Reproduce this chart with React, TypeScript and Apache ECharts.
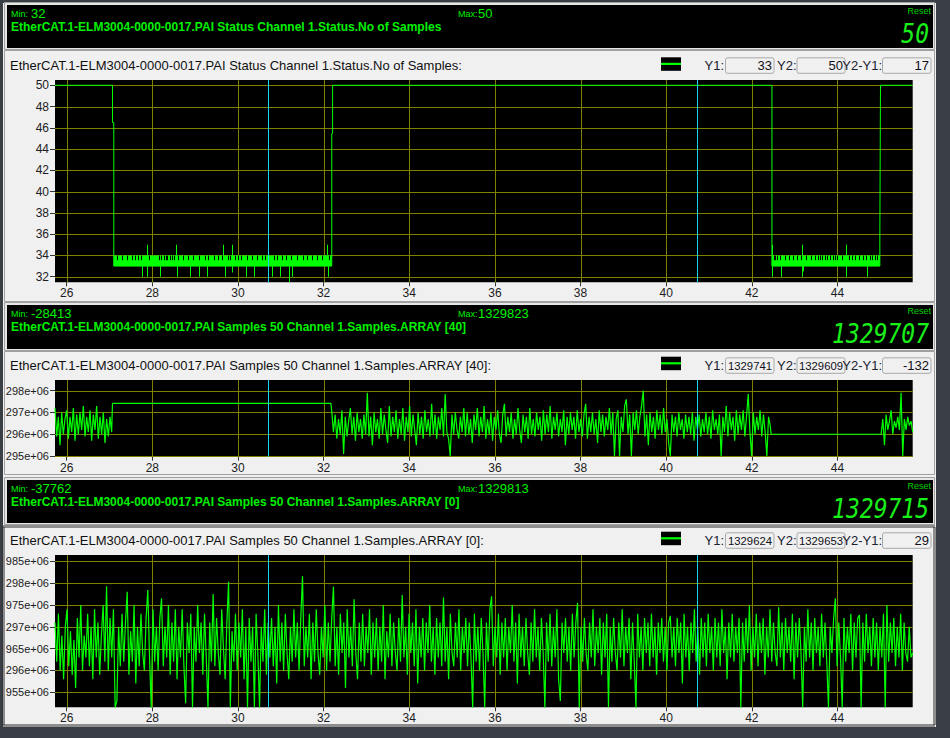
import React, { useEffect, useRef } from 'react';
import * as echarts from 'echarts';

// ---------------- data ----------------
const X_MIN = 25.727;
const X_MAX = 45.757;
const X_TICKS = [26, 28, 30, 32, 34, 36, 38, 40, 42, 44];
const CURSOR_TIMES = [30.71, 40.73];

const HEADER_TITLES = [
  'EtherCAT.1-ELM3004-0000-0017.PAI Status Channel 1.Status.No of Samples',
  'EtherCAT.1-ELM3004-0000-0017.PAI Samples 50 Channel 1.Samples.ARRAY [40]',
  'EtherCAT.1-ELM3004-0000-0017.PAI Samples 50 Channel 1.Samples.ARRAY [0]',
];
const PANEL_TITLES = [
  'EtherCAT.1-ELM3004-0000-0017.PAI Status Channel 1.Status.No of Samples:',
  'EtherCAT.1-ELM3004-0000-0017.PAI Samples 50 Channel 1.Samples.ARRAY [40]:',
  'EtherCAT.1-ELM3004-0000-0017.PAI Samples 50 Channel 1.Samples.ARRAY [0]:',
];
const HEADER_MIN = ['32', '-28413', '-37762'];
const HEADER_MAX = ['50', '1329823', '1329813'];
const HEADER_VALUE = ['50', '1329707', '1329715'];
const CURSOR_Y1 = ['33', '1329741', '1329624'];
const CURSOR_Y2 = ['50', '1329609', '1329653'];
const CURSOR_DY = ['17', '-132', '29'];

// chart 1 : Status.No of Samples
const CH1_Y_TICKS = [32, 34, 36, 38, 40, 42, 44, 46, 48, 50];
const CH1_LINE = [
  [25.727, 50], [27.07, 50], [27.07, 46.5], [27.1, 46.5], [27.1, 33],
  [32.19, 33], [32.19, 45.45], [32.21, 45.45], [32.21, 50],
  [42.47, 50], [42.47, 33], [44.99, 33], [44.99, 35.92], [45.005, 35.92], [45.005, 50], [45.757, 50],
];
const CH1_BANDS = [[27.1, 32.19], [42.47, 44.99]];
const CH1_BAND_LOW = 33;
const CH1_BAND_HIGH = 34;
const CH1_NOTCH_BOTTOM = 33.55;
const CH1_NOTCHES = [
  27.18, 27.3, 27.41, 27.53, 27.59, 27.66, 27.74, 27.92, 28.15, 28.21, 28.27, 28.31, 28.35, 28.41, 28.46, 28.5,
  28.61, 28.71, 28.83, 28.96, 29.09, 29.24, 29.3, 29.43, 29.54, 29.63, 29.77, 29.82, 29.93, 30.0, 30.08, 30.21,
  30.33, 30.45, 30.56, 30.63, 30.83, 30.91, 31.02, 31.12, 31.25, 31.38, 31.51, 31.62, 31.73, 31.85, 31.96, 32.12,
  42.51, 42.55, 42.58, 42.65, 42.77, 42.87, 42.97, 43.05, 43.14, 43.27, 43.39, 43.48, 43.54, 43.6, 43.64, 43.71,
  43.75, 43.82, 43.89, 43.95, 44.0, 44.1, 44.27, 44.35, 44.41, 44.5, 44.59, 44.67, 44.75, 44.81, 44.87, 44.92,
];
const CH1_SPIKES = [
  [27.87, 35], [28.56, 35], [29.66, 35], [29.87, 35], [32.07, 35], [42.48, 35], [43.18, 35], [44.2, 35],
];
const CH1_DIPS = [
  [27.77, 32], [27.88, 32], [28.19, 32], [28.58, 32], [28.89, 32], [29.08, 32], [29.28, 32], [29.69, 32],
  [29.87, 32.4], [30.18, 32], [30.38, 32], [30.79, 32], [30.97, 32], [31.19, 31.5], [31.27, 32], [32.1, 32],
  [42.48, 32], [42.69, 32], [43.18, 32], [43.2, 32.5], [44.2, 32], [44.21, 32.5], [44.7, 32],
];

// chart 2 : Samples.ARRAY [40]
const CH2_Y_TICKS = [295, 296, 297, 298];
const CH2_Y_LABELS = ['295e+06', '296e+06', '297e+06', '298e+06'];
const CH2_NOISE_A = [
  297.2, 295.9, 296.8, 295.5, 297.0, 296.0, 296.7, 297.1, 295.8, 296.8, 296.1, 297.2,
  295.7, 296.9, 296.0, 297.0, 296.2, 297.3, 295.9, 296.8, 296.1, 297.1, 295.7, 296.9,
  296.2, 297.3, 295.8, 296.8, 296.0, 297.0, 295.6, 296.7, 295.9, 296.8, 296.1,
];
const CH2_HOLDS = [[27.07, 32.17, 297.42], [42.45, 45.0, 296.0]];
const CH2_NOISE_B = [
  297.05, 296.1, 296.9, 295.8, 296.7, 296.0, 297.1, 295.1, 296.8, 295.9, 296.6, 297.2, 296.0, 296.8, 295.7, 297.0, 296.1, 296.7, 295.8, 296.9,
  296.0, 297.9, 295.9, 296.8, 295.5, 297.0, 296.1, 296.7, 295.8, 297.2, 296.0, 296.9, 296.2, 295.6, 297.3, 295.9, 296.8, 296.1, 297.1, 295.8,
  296.7, 296.0, 297.2, 295.7, 296.8, 296.1, 297.3, 295.9, 296.9, 296.2, 295.5, 297.0, 296.0, 296.8, 295.8, 297.1, 296.1, 296.7, 295.9, 297.4,
  296.0, 296.9, 295.8, 296.8, 296.2, 297.2, 295.9, 297.85, 296.1, 295.8, 295.0, 296.9, 296.0, 297.0, 296.2, 295.8, 296.8, 296.1, 297.2, 295.9,
  297.0, 296.0, 296.7, 295.6, 296.9, 296.2, 297.2, 295.9, 296.8, 296.1, 297.3, 295.8, 296.7, 296.0, 297.0, 295.7, 296.8, 296.2, 297.1, 296.0,
  295.6, 296.9, 297.4, 295.9, 296.8, 296.1, 297.0, 295.8, 296.7, 296.0, 297.2, 296.2, 295.6, 296.9, 296.1, 296.8, 295.8, 297.2, 296.0, 296.7,
  295.9, 297.0, 296.2, 296.8, 295.7, 297.1, 296.0, 296.9, 296.1, 297.3, 295.8, 296.8, 296.2, 297.0, 295.9, 296.7, 296.1, 297.1, 295.5, 296.8,
  296.0, 297.0, 296.2, 296.8, 295.8, 297.1, 296.1, 296.7, 295.9, 296.9, 297.4, 295.8, 296.8, 296.1, 297.0, 296.0, 296.7, 295.6, 297.1, 296.1,
  296.9, 295.9, 296.8, 296.2, 297.2, 296.0, 297.0, 295.0, 296.7, 297.1, 295.0, 296.8, 296.1, 297.3, 297.6, 296.0, 296.9, 295.0, 297.0, 296.2,
  297.1, 296.0, 296.8, 297.3, 298.0, 295.9, 296.9, 295.5, 297.0, 296.1, 296.8, 295.8, 297.1, 296.2, 296.9, 296.0, 297.2, 296.1, 296.7, 295.6,
  295.0, 296.9, 296.1, 296.8, 295.9, 297.0, 296.2, 296.7, 295.8, 296.9, 296.1, 296.8, 296.0, 297.0, 295.7, 296.8, 296.2, 296.9, 295.9, 296.7,
  296.1, 297.0, 296.0, 296.8, 295.8, 297.1, 296.2, 296.7, 296.0, 296.9, 295.0, 296.8, 296.1, 297.3, 295.9, 297.0, 296.2, 296.8, 295.7, 297.1,
  296.0, 296.9, 296.2, 297.1, 295.9, 296.8, 297.85, 296.1, 295.0, 297.0, 296.0, 296.8, 296.2, 297.1, 295.9, 296.9, 296.1, 295.0, 296.8, 296.4,
];
const CH2_NOISE_C = [
  296.0, 296.7, 295.5, 296.9, 296.2, 296.6, 297.1, 296.0, 296.6, 296.3,
  296.8, 296.2, 297.9, 295.0, 296.7, 296.2, 296.8, 296.4, 296.6, 296.1,
];

// chart 3 : Samples.ARRAY [0]
const CH3_Y_TICKS = [295.5, 296, 296.5, 297, 297.5, 298, 298.5];
const CH3_Y_LABELS = ['955e+06', '296e+06', '965e+06', '297e+06', '975e+06', '298e+06', '985e+06'];
const CH3_NOISE = [
  297.1, 296.2, 297.3, 296.0, 296.8, 295.8, 297.0, 297.4, 296.1, 296.9, 295.9, 296.7, 295.6, 297.2, 296.3, 297.5, 296.0, 296.8, 296.3, 297.3,
  296.1, 297.0, 295.8, 297.4, 296.3, 297.1, 295.9, 296.8, 297.5, 296.2, 297.93, 296.0, 297.2, 296.3, 297.4, 295.15, 295.3, 297.0, 296.1, 297.3,
  296.2, 297.1, 297.8, 295.9, 296.9, 296.2, 297.5, 295.7, 297.0, 296.1, 297.3, 296.4, 296.0, 297.2, 297.84, 296.3, 295.15, 297.4, 296.2, 297.0,
  296.0, 297.2, 297.65, 296.1, 297.0, 296.3, 297.5, 295.9, 297.1, 296.2, 297.4, 295.8, 297.0, 296.3, 297.4, 296.1, 295.25, 297.1, 296.4, 297.3,
  295.15, 297.0, 296.2, 297.5, 296.4, 297.1, 295.9, 297.3, 296.3, 295.15, 297.1, 296.2, 297.75, 296.1, 297.2, 296.4, 295.9, 297.4, 296.5, 295.8,
  297.1, 298.03, 295.15, 296.9, 296.2, 297.3, 296.0, 297.1, 296.3, 297.4, 295.8, 297.0, 295.15, 297.2, 296.2, 297.0, 295.15, 297.3, 296.4, 295.15,
  297.0, 296.2, 297.4, 295.9, 297.1, 296.3, 297.2, 296.1, 297.0, 295.7, 297.5, 296.2, 297.1, 296.0, 297.3, 296.4, 295.8, 297.0, 296.2, 297.4,
  296.3, 297.1, 296.0, 297.2, 298.16, 296.1, 297.0, 296.3, 297.3, 295.8, 297.1, 296.2, 297.4, 296.4, 295.9, 297.0, 296.3, 297.5, 296.0, 297.1,
  296.2, 297.2, 297.92, 296.1, 297.0, 295.9, 297.3, 296.4, 297.1, 295.6, 297.4, 296.3, 297.0, 296.1, 297.63, 296.4, 295.8, 297.1, 296.2, 297.3,
  296.1, 297.0, 296.4, 297.4, 295.9, 297.1, 296.3, 297.2, 296.0, 297.0, 296.2, 297.5, 295.8, 296.9, 296.3, 297.3, 296.1, 297.1, 296.4, 296.0,
  297.2, 296.2, 297.73, 296.3, 297.0, 295.9, 297.3, 296.4, 297.1, 296.1, 297.4, 295.7, 297.0, 296.3, 297.2, 296.0, 297.1, 296.4, 297.5, 296.2,
  297.0, 295.9, 297.2, 296.3, 297.1, 296.1, 297.67, 296.2, 297.0, 295.8, 297.3, 296.4, 296.1, 297.1, 296.3, 297.4, 296.0, 297.0, 296.4, 297.2,
  296.1, 297.1, 296.3, 295.15, 297.3, 296.2, 297.0, 296.0, 297.2, 296.4, 295.15, 297.1, 296.2, 297.4, 297.7, 296.1, 297.0, 296.3, 297.3, 295.9,
  297.1, 296.3, 297.2, 296.0, 297.0, 296.4, 297.5, 296.2, 297.1, 295.7, 297.3, 296.3, 297.0, 296.1, 297.2, 296.4, 295.9, 297.1, 296.2, 297.4,
  296.3, 297.0, 296.0, 297.2, 296.4, 295.15, 297.1, 296.2, 297.3, 296.1, 297.0, 296.3, 297.4, 295.8, 295.3, 297.1, 296.4, 297.2, 296.2, 297.0,
  296.0, 297.3, 296.3, 297.1, 297.55, 295.15, 297.0, 296.2, 297.2, 296.4, 296.0, 297.1, 296.3, 297.4, 296.1, 297.0, 296.4, 297.2, 295.9, 297.1,
  296.3, 297.3, 295.16, 297.0, 296.2, 297.2, 296.4, 296.0, 297.1, 296.3, 297.4, 296.1, 297.0, 296.4, 297.2, 295.8, 297.1, 296.2, 295.15, 297.3,
  296.3, 297.0, 296.0, 297.2, 296.4, 297.1, 296.1, 297.3, 296.3, 297.0, 295.9, 297.1, 296.4, 297.2, 296.2, 297.0, 296.0, 297.1, 297.25, 296.3,
  297.0, 296.1, 297.2, 296.4, 297.1, 295.7, 297.3, 296.3, 297.0, 296.0, 297.1, 296.4, 297.4, 296.2, 297.0, 295.9, 297.2, 296.3, 297.1, 296.1,
  297.3, 296.4, 297.0, 296.0, 297.2, 296.3, 297.1, 296.1, 297.4, 296.4, 297.0, 295.8, 297.1, 296.3, 297.3, 296.2, 297.0, 296.4, 297.2, 295.15,
  297.1, 296.2, 297.2, 296.4, 297.49, 296.0, 297.0, 296.3, 297.3, 296.1, 297.1, 296.4, 297.2, 295.9, 297.0, 296.3, 297.4, 296.2, 297.1, 296.4,
  296.1, 297.45, 296.3, 297.1, 296.0, 297.2, 296.4, 297.0, 296.2, 297.3, 295.8, 297.1, 296.3, 297.2, 296.4, 295.15, 297.0, 296.2, 297.4, 296.3,
  297.1, 296.0, 297.2, 296.4, 297.0, 296.1, 297.3, 296.3, 297.1, 296.2, 295.15, 297.0, 296.4, 297.2, 297.65, 296.1, 297.1, 296.3, 295.15, 297.2,
  296.2, 297.0, 296.4, 297.3, 296.0, 297.1, 296.3, 297.2, 297.27, 295.15, 297.1, 296.2, 297.3, 296.4, 297.0, 296.1, 297.2, 296.3, 297.1, 296.0,
  297.0, 296.3, 297.3, 295.15, 297.5, 296.2, 297.1, 296.4, 297.2, 296.1, 297.0, 296.3, 297.3, 296.0, 297.1, 296.4, 296.2, 297.0, 296.3, 296.4,
];

// ---------------- styling / layout ----------------
const UI_FONT = '"Liberation Sans", Arial, Helvetica, sans-serif';
const DIGIT_FONT = '"DejaVu Sans Mono", monospace';
const GREEN = '#00ff00';
const HEAD_GREEN = '#00f000';
const GRID_COLOR = '#808000';
const CURSOR_COLOR = '#1ad4f4';
const AXIS_TEXT = '#1c1c24';
const PLOT_LEFT = 55;
const PLOT_WIDTH = 857.7;
const NOISE_WIDTH = 1.2;

const PLOTS = [
  { top: 80, height: 202.3, yMin: 31.473, yMax: 50.498, yTicks: CH1_Y_TICKS, yLabels: CH1_Y_TICKS.map(String), labelSize: 12 },
  { top: 380, height: 76.7, yMin: 294.97, yMax: 298.49, yTicks: CH2_Y_TICKS, yLabels: CH2_Y_LABELS, labelSize: 11 },
  { top: 555, height: 152.3, yMin: 295.157, yMax: 298.644, yTicks: CH3_Y_TICKS, yLabels: CH3_Y_LABELS, labelSize: 11 },
];
const HEADER_TOPS = [5, 305, 480];
const HEADER_HEIGHTS = [43, 44, 43];
const PANEL_TITLE_Y = [65.5, 365.5, 540.5];
const BOX_TOPS = [57.3, 357.3, 532.3];
const SWATCH_TOPS = [57.3, 356.7, 531.7];

function spread(values: number[], t0: number, t1: number) {
  const n = values.length;
  return values.map((v, i) => [t0 + ((t1 - t0) * i) / (n - 1), v]);
}

const crisp = (v: number) => Math.round(v) + 0.5;

function vSegments(idx: number, data: number[][], color: string, z: number, width = 1) {
  return {
    type: 'custom',
    xAxisIndex: idx,
    yAxisIndex: idx,
    z,
    silent: true,
    data,
    renderItem: (_p: any, api: any) => {
      const x = api.value(0);
      const a = api.coord([x, api.value(1)]);
      const b = api.coord([x, api.value(2)]);
      const px = crisp(a[0]);
      return {
        type: 'line',
        shape: { x1: px, y1: a[1], x2: px, y2: b[1] },
        style: { stroke: color, lineWidth: width },
      };
    },
  };
}

function hSegments(idx: number, ys: number[], color: string, z: number) {
  return {
    type: 'custom',
    xAxisIndex: idx,
    yAxisIndex: idx,
    z,
    silent: true,
    data: ys.map((y) => [X_MIN, y, X_MAX]),
    renderItem: (_p: any, api: any) => {
      const a = api.coord([api.value(0), api.value(1)]);
      const b = api.coord([api.value(2), api.value(1)]);
      const py = crisp(a[1]);
      return {
        type: 'line',
        shape: { x1: a[0], y1: py, x2: b[0], y2: py },
        style: { stroke: color, lineWidth: 1 },
      };
    },
  };
}

function text(x: number, y: number, str: string, size: number, color: string, align = 'left', weight = 'normal', family = UI_FONT, extra: any = {}) {
  return {
    type: 'text',
    x,
    y,
    z: 30,
    silent: true,
    style: {
      text: str,
      fill: color,
      font: `${extra.italic ? 'italic ' : ''}${weight} ${size}px ${family}`,
      textAlign: align,
      textVerticalAlign: 'middle',
    },
    scaleY: extra.scaleY || 1,
  };
}

function rect(x: number, y: number, w: number, h: number, style: any, z = -5) {
  return { type: 'rect', z, silent: true, shape: { x, y, width: w, height: h }, style };
}

function buildGraphics() {
  const els: any[] = [];
  els.push(rect(0, 0, 950, 738, { fill: '#3a3f45' }, -20));
  els.push(rect(3, 3, 933, 724, { fill: '#f0f0f0' }, -19));
  els.push(rect(4.5, 50.5, 930, 251, { fill: '#f0f0f0', stroke: '#a0a0a0', lineWidth: 1 }, -18));
  els.push(rect(4.5, 351.5, 930, 123, { fill: '#f0f0f0', stroke: '#a0a0a0', lineWidth: 1 }, -18));
  els.push(rect(3.5, 526.5, 931, 199, { fill: '#f0f0f0', stroke: '#2a2a2a', lineWidth: 3, lineDash: [1, 1] }, -18));

  for (let i = 0; i < 3; i++) {
    const H = HEADER_TOPS[i];
    els.push(rect(4.5, H - 2.5, 930, HEADER_HEIGHTS[i] + 4, { fill: '#e6e6e6', stroke: '#a0a0a0', lineWidth: 1 }, -17));
    els.push(rect(7, H, 926, HEADER_HEIGHTS[i], { fill: '#000' }, -16));
    els.push(text(11, H + 8.8, 'Min:', 9, HEAD_GREEN));
    els.push(text(31, H + 8, HEADER_MIN[i], 13, HEAD_GREEN));
    els.push(text(458, H + 8.8, 'Max:', 9, HEAD_GREEN));
    els.push(text(478, H + 8, HEADER_MAX[i], 13, HEAD_GREEN));
    els.push(text(11, H + 22, HEADER_TITLES[i], 12, HEAD_GREEN, 'left', 'bold'));
    els.push(text(931, H + 5.7, 'Reset', 9, '#00d000', 'right'));
    els.push(text(929, H + 28.5, HEADER_VALUE[i], 23, '#19f019', 'right', 'normal', DIGIT_FONT, { italic: true, scaleY: 1.18 }));

    els.push(text(10, PANEL_TITLE_Y[i], PANEL_TITLES[i], 13, '#101010'));
    const S = SWATCH_TOPS[i];
    els.push(rect(661, S, 20, 13.5, { fill: '#000' }, 10));
    els.push(rect(661, S + 5.5, 20, 2.2, { fill: GREEN }, 11));
    const B = BOX_TOPS[i];
    const boxes = [
      { label: 'Y1:', lx: 724, x: 725.5, w: 48.5, v: CURSOR_Y1[i] },
      { label: 'Y2:', lx: 796.5, x: 797, w: 48, v: CURSOR_Y2[i] },
      { label: 'Y2-Y1:', lx: 882, x: 882.5, w: 48.5, v: CURSOR_DY[i] },
    ];
    boxes.forEach((b) => {
      els.push(text(b.lx, B + 8, b.label, 13, '#202030', 'right'));
      els.push({
        type: 'rect', z: 10, silent: true,
        shape: { x: b.x, y: B + 0.5, width: b.w, height: 15.5, r: 2 },
        style: { fill: '#f0f0f0', stroke: '#a8a8a8', lineWidth: 1 },
      });
      const size = b.v.length > 5 ? 11.3 : 13;
      els.push(text(b.x + b.w - 2, B + 8.5, b.v, size, '#101018', 'right'));
    });
  }
  return els;
}

function buildOption() {
  const grid = PLOTS.map((p) => ({
    left: PLOT_LEFT, top: p.top, width: PLOT_WIDTH, height: p.height,
    show: true, backgroundColor: '#000', borderWidth: 0,
  }));
  const xAxis = PLOTS.map((_p, i) => ({
    gridIndex: i, type: 'value', min: X_MIN, max: X_MAX,
    axisLine: { show: false }, splitLine: { show: false },
    axisTick: { show: true, customValues: X_TICKS, length: 4, lineStyle: { color: '#333' } },
    axisLabel: { customValues: X_TICKS, margin: 5, color: AXIS_TEXT, fontSize: 12, fontFamily: UI_FONT },
  }));
  const yAxis = PLOTS.map((p, i) => ({
    gridIndex: i, type: 'value', min: p.yMin, max: p.yMax,
    axisLine: { show: false }, splitLine: { show: false },
    axisTick: { show: true, customValues: p.yTicks, length: 5, lineStyle: { color: '#333' } },
    axisLabel: {
      customValues: p.yTicks, margin: 6, color: AXIS_TEXT, fontSize: p.labelSize, fontFamily: UI_FONT,
      formatter: (v: number) => {
        let best = 0;
        p.yTicks.forEach((t, k) => { if (Math.abs(t - v) < Math.abs(p.yTicks[best] - v)) best = k; });
        return p.yLabels[best];
      },
    },
  }));

  const series: any[] = [];
  PLOTS.forEach((p, i) => {
    series.push(vSegments(i, X_TICKS.map((x) => [x, p.yMin, p.yMax]), GRID_COLOR, 1));
    series.push(hSegments(i, p.yTicks, GRID_COLOR, 1));
  });

  // chart 1
  series.push({
    type: 'custom', xAxisIndex: 0, yAxisIndex: 0, z: 2, silent: true,
    data: CH1_BANDS.map(([a, b]) => [a, b, CH1_BAND_LOW, CH1_BAND_HIGH]),
    renderItem: (_p: any, api: any) => {
      const p0 = api.coord([api.value(0), api.value(3)]);
      const p1 = api.coord([api.value(1), api.value(2)]);
      return { type: 'rect', shape: { x: p0[0], y: p0[1], width: p1[0] - p0[0], height: p1[1] - p0[1] }, style: { fill: GREEN } };
    },
  });
  series.push({
    type: 'line', xAxisIndex: 0, yAxisIndex: 0, z: 3, data: CH1_LINE,
    showSymbol: false, symbol: 'none', lineStyle: { color: GREEN, width: 1 },
  });
  series.push(vSegments(0, CH1_SPIKES.map(([t, v]) => [t, CH1_BAND_HIGH, v]), GREEN, 3));
  series.push(vSegments(0, CH1_DIPS.map(([t, v]) => [t, CH1_BAND_LOW, v]), GREEN, 3));
  series.push(vSegments(0, CH1_NOTCHES.map((t) => [t, CH1_BAND_HIGH - 0.02, CH1_NOTCH_BOTTOM]), '#000', 4));

  // chart 2
  const ch2: number[][] = [
    ...spread(CH2_NOISE_A, X_MIN, 27.05),
    [CH2_HOLDS[0][0], CH2_HOLDS[0][2]], [CH2_HOLDS[0][1], CH2_HOLDS[0][2]],
    ...spread(CH2_NOISE_B, 32.19, 42.43),
    [CH2_HOLDS[1][0], CH2_HOLDS[1][2]], [CH2_HOLDS[1][1], CH2_HOLDS[1][2]],
    ...spread(CH2_NOISE_C, 45.02, X_MAX),
  ];
  series.push({
    type: 'line', xAxisIndex: 1, yAxisIndex: 1, z: 3, data: ch2,
    showSymbol: false, symbol: 'none', lineStyle: { color: GREEN, width: NOISE_WIDTH },
  });

  // chart 3
  series.push({
    type: 'line', xAxisIndex: 2, yAxisIndex: 2, z: 3, data: spread(CH3_NOISE, X_MIN, X_MAX),
    showSymbol: false, symbol: 'none', lineStyle: { color: GREEN, width: NOISE_WIDTH },
  });

  // cursors
  PLOTS.forEach((p, i) => {
    series.push(vSegments(i, CURSOR_TIMES.map((t) => [t, p.yMin, p.yMax]), CURSOR_COLOR, 6));
  });

  return {
    animation: false,
    backgroundColor: '#3a3f45',
    grid,
    xAxis,
    yAxis,
    series,
    graphic: { elements: buildGraphics() },
  };
}

export default function App() {
  const ref = useRef<HTMLDivElement>(null);
  useEffect(() => {
    const chart = echarts.init(ref.current as HTMLDivElement, null, { renderer: 'svg', width: 950, height: 738 });
    chart.setOption(buildOption() as any);
    return () => chart.dispose();
  }, []);
  return <div ref={ref} style={{ position: 'fixed', left: 0, top: 0, width: 950, height: 738 }} />;
}
